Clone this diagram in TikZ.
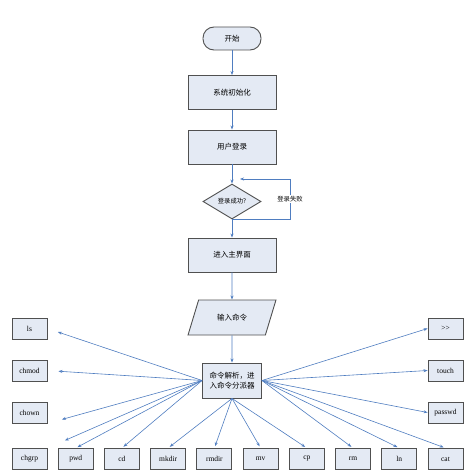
\documentclass[tikz,border=0pt]{standalone}
\usepackage{fontspec}
\setmainfont{Liberation Serif}
\newfontfamily\cjk{Noto Sans CJK SC}
\usetikzlibrary{shapes.geometric,arrows.meta}
\definecolor{boxfill}{HTML}{E4EAF4}
\definecolor{boxline}{HTML}{505050}
\definecolor{flow}{HTML}{4F7DC0}
\begin{document}
\begin{tikzpicture}[
	x=1pt,y=-1pt,
	font=\fontsize{7.5}{9}\selectfont,
	zh/.style={font=\cjk\fontsize{7.5}{10}\selectfont},
	term/.style={draw=boxline,fill=boxfill,line width=0.9pt,rounded corners=11pt,minimum width=58pt,minimum height=23pt,zh},
	proc/.style={draw=boxline,fill=boxfill,line width=0.9pt,minimum width=88pt,minimum height=34pt,zh},
	dec/.style={draw=boxline,fill=boxfill,line width=0.9pt,diamond,aspect=1.66,inner sep=0pt,minimum width=58pt,minimum height=35pt,font=\cjk\fontsize{6.3}{7}\selectfont},
	io/.style={draw=boxline,fill=boxfill,line width=0.9pt,trapezium,trapezium left angle=67,trapezium right angle=113,trapezium stretches=true,minimum width=88pt,minimum height=35pt,zh},
	disp/.style={draw=boxline,fill=boxfill,line width=0.9pt,minimum width=59pt,minimum height=35pt,inner sep=1pt,align=center,zh},
	cmd/.style={draw=boxline,fill=boxfill,line width=0.9pt,minimum width=35pt,minimum height=21pt,inner sep=0pt},
	lbl/.style={fill=white,inner sep=1pt,font=\cjk\fontsize{6.3}{7}\selectfont},
	arr/.style={draw=flow,line width=0.6pt,-{Stealth[length=4pt,width=3pt]}},
	]
\useasboundingbox (0,0) rectangle (474,476);
\node [term] (start) at (232,38.5) {开始};
\node [proc] (init) at (232,92.5) {系统初始化};
\node [proc] (login) at (232,147) {用户登录};
\node [dec] (ok) at (232,201.5) {登录成功?};
\node [proc] (menu) at (232,255) {进入主界面};
\node [io] (input) at (232,317.5) {输入命令};
\node [disp] (parse) at (232,380.5) {命令解析，进\\入命令分派器};
\coordinate (back) at (240,179);
\node [cmd] (ls) at (29.5,328.5) {ls};
\node [cmd] (chmod) at (29.5,370.5) {chmod};
\node [cmd] (chown) at (29.5,412.5) {chown};
\node [cmd] (redir) at (445.5,328.5) {>{}>};
\node [cmd] (touch) at (445.5,370.5) {touch};
\node [cmd] (passwd) at (445.5,412.5) {passwd};
\foreach \name [count=\i from 0] in {chgrp,pwd,cd,mkdir,rmdir,mv,cp,rm,ln,cat}
	\node [cmd] (\name) at (29.5+46.22*\i,459) {\name};
\draw [arr] (start) -- (init);
\draw [arr] (init) -- (login);
\draw [arr] (login) -- (ok);
\draw [arr] (ok) -- (menu);
\draw [arr] (menu) -- (input);
\draw [arr] (input) -- (parse);
\draw [arr] (ok.south) -- ++(58,0) |- node [lbl,pos=0.25] {登录失败} (back);
\draw [arr,shorten >=11pt] (parse.west) -- (ls.east);
\draw [arr,shorten >=11pt] (parse.west) -- (chmod.east);
\draw [arr,shorten >=15pt] (parse.west) -- (chown.south east);
\draw [arr,shorten >=19pt] (parse.west) -- (chgrp.north east);
\draw [arr,shorten >=2pt] (parse.west) -- (pwd.north);
\draw [arr,shorten >=2pt] (parse.west) -- (cd.north);
\foreach \name in {mkdir,rmdir,mv,cp}
	\draw [arr,shorten >=2pt] (parse.south) -- (\name.north);
\foreach \name in {rm,ln,cat}
	\draw [arr,shorten >=2pt] (parse.east) -- (\name.north);
\foreach \name in {redir,touch,passwd}
	\draw [arr] (parse.east) -- (\name.west);
\end{tikzpicture}
\end{document}
